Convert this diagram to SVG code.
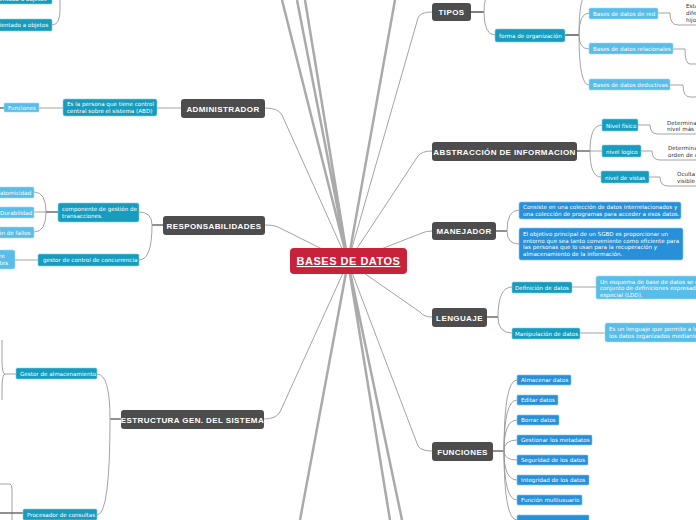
<svg xmlns="http://www.w3.org/2000/svg" width="696" height="520" viewBox="0 0 696 520">
<defs><style>
.main rect{fill:#4d4d4d}
.main text{fill:#fff;font:bold 8px "Liberation Sans",sans-serif;text-anchor:middle;letter-spacing:.4px}
.teal rect{fill:#189cbd;stroke:#7fd0e6;stroke-width:.6}
.lb rect{fill:#58bde8;stroke:#a7dcf3;stroke-width:.6}
.bl rect{fill:#2790d8;stroke:#8cc6ee;stroke-width:.6}
.teal text,.lb text,.bl text{fill:#fff;font:5.6px "DejaVu Sans",sans-serif}
.dk{fill:#333;font:5.6px "DejaVu Sans",sans-serif}
.c path{fill:none;stroke:#999;stroke-width:.9}
.c .t{stroke:#aaa;stroke-width:2.5}
.c .d{stroke:#555;stroke-width:1.3}
</style></defs>
<g class="c">
<path class="t" d="M348 262L282 0M348 262L297 0M348 262L305 0M348 262L395 0M348 262L300 520M348 262L390 520M348 262L402 520"/>
<path d="M348 262L418 18Q420 12 432 12"/>
<path d="M348 262L418 156Q422 151 432 151"/>
<path d="M348 262L422 233Q426 231 432 231"/>
<path d="M348 262L420 312Q424 317 432 317"/>
<path d="M348 262L418 446Q421 451 432 451"/>
<path d="M348 262L282 115Q278 108 265 108"/>
<path d="M348 262L280 228Q275 225 265 225"/>
<path d="M348 262L280 412Q276 419 264 419"/>
<path class="d" d="M471 12H484M565 35H579"/>
<path d="M484 12Q484 35 495 35M484 12Q484 -5 490 -5"/>
<path d="M579 35Q579 13 589 13M579 35Q579 49 589 49M579 35Q579 85 589 85M579 35Q579 -5 587 -5"/>
<path d="M658 13H670Q670 25 678 25H696M673 49H685Q685 64 690 64H696M670 85H683Q683 97 690 97H696"/>
<path class="d" d="M577 151H590"/>
<path d="M590 151Q590 125 602 125M590 151H602M590 151Q590 177 601 177"/>
<path d="M638 125H650Q650 134 658 134H696M641 151H652Q652 160 660 160H696M649 177H660Q660 186 668 186H696"/>
<path class="d" d="M496 231H507"/>
<path d="M507 231Q507 210 519 210M507 231Q507 244 519 244"/>
<path class="d" d="M487 317H498"/>
<path d="M498 317Q498 287 512 287M498 317Q498 333 512 333"/>
<path d="M572 287H596M580 333H605" stroke-width="1.4"/>
<path class="d" d="M493 451H504"/>
<path d="M504 451Q504 380 517 380M504 451Q504 400 517 400M504 451Q504 420 517 420M504 451Q504 440 517 440M504 451Q504 460 517 460M504 451Q504 480 517 480M504 451Q504 500 517 500M504 451Q504 520 517 520"/>
<path d="M181 108H157M63 108H39"/>
<path class="d" d="M0 108H4"/>
<path d="M52 25Q60 25 60 10V0"/>
<path class="d" d="M163 225H152"/>
<path d="M152 225Q152 212 139 212M152 225Q152 260 139 260"/>
<path class="d" d="M58 212H46"/>
<path d="M46 212Q46 192 34 192M46 212H34M46 212Q46 232 34 232M38 260H15"/>
<path class="d" d="M121 419H110"/>
<path d="M110 419Q110 374 97 374M110 419Q110 515 97 515M16 374H5Q2 374 2 360V340M5 374Q2 374 2 390V400M0 484H10Q12 484 12 490V520"/>
<path class="d" d="M23 513H0"/>
</g>
<g id="center"><rect x="290" y="248" width="117" height="26" rx="4" fill="#c8213a"/><text x="348.5" y="265" fill="#fff" font-family="Liberation Sans,sans-serif" font-weight="bold" font-size="11" text-anchor="middle" text-decoration="underline" letter-spacing=".5">BASES DE DATOS</text></g>
<g id="tipos" class="main"><rect x="432" y="3" width="39" height="18" rx="3"/><text x="451.5" y="15">TIPOS</text></g>
<g id="abs" class="main"><rect x="432" y="142" width="145" height="19" rx="3"/><text x="504.5" y="154.5">ABSTRACCIÓN DE INFORMACION</text></g>
<g id="manejador" class="main"><rect x="432" y="222" width="64" height="18" rx="3"/><text x="464" y="234">MANEJADOR</text></g>
<g id="lenguaje" class="main"><rect x="432" y="308" width="55" height="19" rx="3"/><text x="459.5" y="320.5">LENGUAJE</text></g>
<g id="funciones" class="main"><rect x="432" y="442" width="61" height="19" rx="3"/><text x="462.5" y="454.5">FUNCIONES</text></g>
<g id="admin" class="main"><rect x="181" y="99" width="84" height="19" rx="3"/><text x="223" y="111.5">ADMINISTRADOR</text></g>
<g id="resp" class="main"><rect x="163" y="216" width="102" height="19" rx="3"/><text x="214" y="228.5">RESPONSABILIDADES</text></g>
<g id="estr" class="main"><rect x="121" y="410" width="143" height="19" rx="3"/><text x="192.5" y="422.5">ESTRUCTURA GEN. DEL SISTEMA</text></g>
<g id="forma" class="teal"><rect x="495" y="29" width="70" height="13" rx="2"/><text x="499" y="37.5">forma de organización</text></g>
<g id="red" class="lb"><rect x="589" y="8" width="69" height="11" rx="1.5"/><text x="593" y="15.5">Bases de datos de red</text></g>
<g id="rel" class="lb"><rect x="589" y="43" width="84" height="11" rx="1.5"/><text x="593" y="50.5">Bases de datos relacionales</text></g>
<g id="ded" class="lb"><rect x="589" y="79" width="81" height="11" rx="1.5"/><text x="593" y="86.5">Bases de datos deductivas</text></g>
<g id="red-d"><text class="dk" x="686" y="8">Esta</text><text class="dk" x="686" y="15">dife</text><text class="dk" x="686" y="22">hijo</text></g>
<g id="fis" class="teal"><rect x="602" y="119" width="36" height="12" rx="1.5"/><text x="606" y="127.5">Nivel físico</text></g>
<g id="log" class="teal"><rect x="602" y="145" width="39" height="12" rx="1.5"/><text x="606" y="153.5">nivel logico</text></g>
<g id="vis" class="teal"><rect x="601" y="171" width="48" height="12" rx="1.5"/><text x="605" y="179.5">nivel de vistas</text></g>
<g id="fis-d"><text class="dk" x="667" y="124.5">Determina</text><text class="dk" x="667" y="131">nivel más b</text></g>
<g id="log-d"><text class="dk" x="668" y="150">Determina</text><text class="dk" x="668" y="156.5">orden de c</text></g>
<g id="vis-d"><text class="dk" x="677" y="176">Oculta</text><text class="dk" x="677" y="182.5">visible</text></g>
<g id="m1" class="bl"><rect x="519" y="202" width="162" height="17" rx="2"/><text x="523" y="209">Consiste en una colección de datos interrelacionados y</text><text x="523" y="215.5">una colección de programas para acceder a esos datos.</text></g>
<g id="m2" class="bl"><rect x="519" y="228" width="164" height="32" rx="2"/><text x="523" y="236">El objetivo principal de un SGBD es proporcionar un</text><text x="523" y="242.5">entorno que sea tanto conveniente como eficiente para</text><text x="523" y="249">las personas que lo usan para la recuperación y</text><text x="523" y="255.5">almacenamiento de la información.</text></g>
<g id="def" class="teal"><rect x="512" y="282" width="60" height="11" rx="1.5"/><text x="515" y="289.5">Definición de datos</text></g>
<g id="man" class="teal"><rect x="512" y="328" width="68" height="11" rx="1.5"/><text x="515" y="335.5">Manipulación de datos</text></g>
<g id="def-d" class="lb"><rect x="596" y="276" width="104" height="23" rx="2"/><text x="600" y="283.5">Un esquema de base de datos se e</text><text x="600" y="290">conjunto de definiciones expresad</text><text x="600" y="296.5">especial (LDD).</text></g>
<g id="man-d" class="lb"><rect x="605" y="323" width="95" height="19" rx="2"/><text x="609" y="331">Es un lenguaje que permite a lo</text><text x="609" y="337.5">los datos organizados mediante</text></g>
<g id="f1" class="bl"><rect x="517" y="375" width="54" height="10" rx="1"/><text x="521" y="382">Almacenar datos</text></g>
<g id="f2" class="bl"><rect x="517" y="395" width="41" height="10" rx="1"/><text x="521" y="402">Editar datos</text></g>
<g id="f3" class="bl"><rect x="517" y="415" width="42" height="10" rx="1"/><text x="521" y="422">Borrar datos</text></g>
<g id="f4" class="bl"><rect x="517" y="435" width="75" height="10" rx="1"/><text x="521" y="442">Gestionar los metadatos</text></g>
<g id="f5" class="bl"><rect x="517" y="455" width="71" height="10" rx="1"/><text x="521" y="462">Seguridad de los datos</text></g>
<g id="f6" class="bl"><rect x="517" y="475" width="72" height="10" rx="1"/><text x="521" y="482">Integridad de los datos</text></g>
<g id="f7" class="bl"><rect x="517" y="495" width="65" height="10" rx="1"/><text x="521" y="502">Función multiusuario</text></g>
<g id="f8" class="bl"><rect x="517" y="515" width="72" height="10" rx="1"/></g>
<g id="abd" class="teal"><rect x="63" y="99" width="94" height="17" rx="2"/><text x="67" y="106">Es la persona que tiene control</text><text x="67" y="112.5">central sobre el sistema (ABD)</text></g>
<g id="func" class="lb"><rect x="4" y="103" width="35" height="9" rx="1"/><text x="8" y="109.5">Funciones</text></g>
<g id="obj1" class="teal"><rect x="-5" y="-5" width="57" height="9" rx="1.5"/><text x="-8" y="1">orientado a objetos</text></g>
<g id="obj2" class="teal"><rect x="-5" y="19" width="57" height="12" rx="1.5"/><text x="-6" y="27">orientado a objetos</text></g>
<g id="trans" class="teal"><rect x="58" y="203" width="81" height="19" rx="2"/><text x="62" y="211">componente de gestión de</text><text x="62" y="217.5">transacciones.</text></g>
<g id="atom" class="lb"><rect x="-4" y="187" width="38" height="11" rx="1.5"/><text x="0" y="194.5">atomicidad</text></g>
<g id="dur" class="lb"><rect x="-4" y="207" width="38" height="11" rx="1.5"/><text x="0" y="214.5">Durabilidad</text></g>
<g id="fal" class="lb"><rect x="-4" y="227" width="38" height="11" rx="1.5"/><text x="-2" y="234.5">ón de fallos</text></g>
<g id="conc" class="teal"><rect x="38" y="254" width="101" height="12" rx="1.5"/><text x="43" y="262">gestor de control de concurrencia</text></g>
<g id="conc-d" class="lb"><rect x="-4" y="250" width="19" height="19" rx="2"/><text x="-1" y="258">re</text><text x="-4" y="265">ntes</text></g>
<g id="alm" class="teal"><rect x="16" y="368" width="81" height="11" rx="1.5"/><text x="20" y="375.5">Gestor de almacenamiento</text></g>
<g id="proc" class="teal"><rect x="23" y="509" width="74" height="11" rx="1.5"/><text x="27" y="516.5">Procesador de consultas</text></g>
</svg>
